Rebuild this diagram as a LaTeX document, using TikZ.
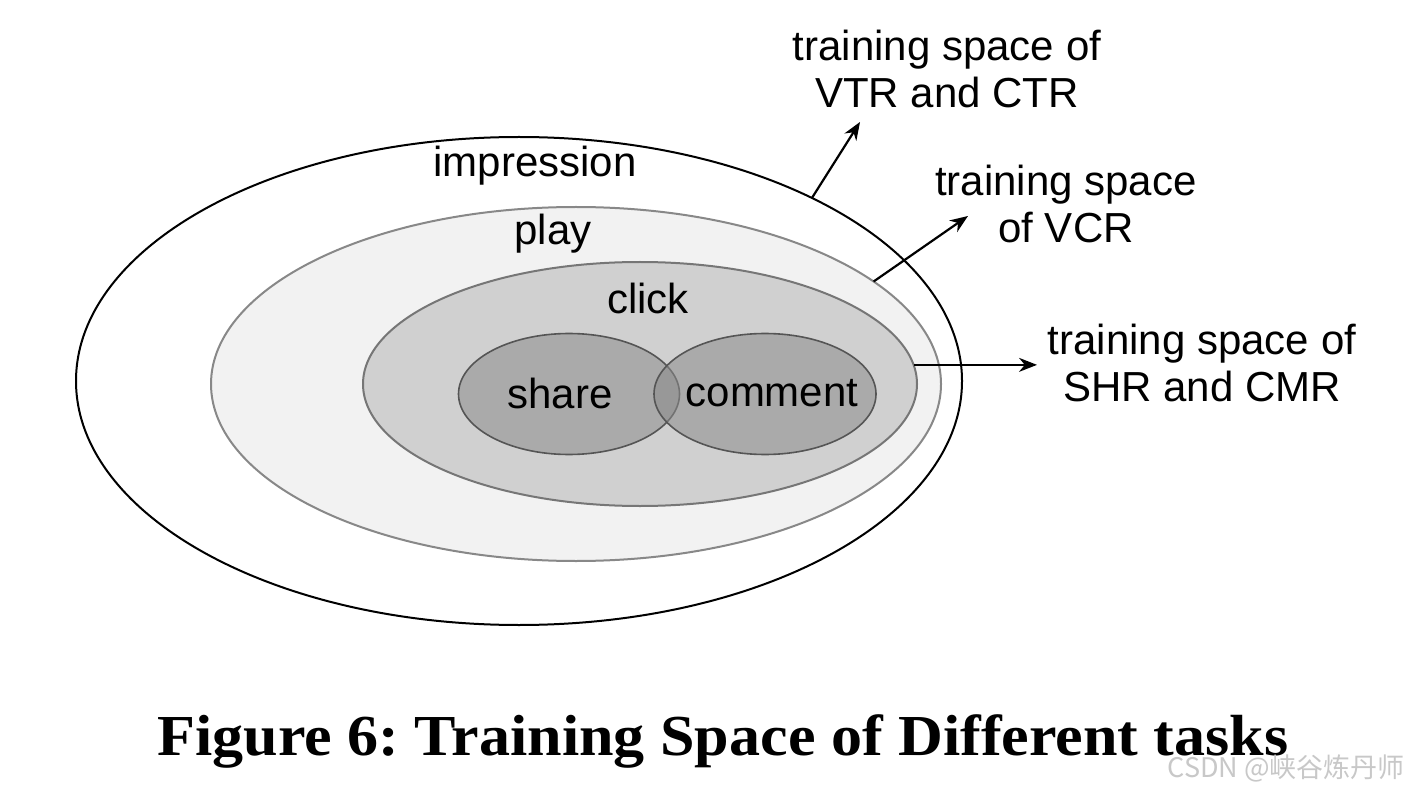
\documentclass[tikz,border=0pt]{standalone}
\usepackage{fontspec}
\setmainfont{Liberation Sans}
\newfontfamily\capfont{Liberation Serif}
\newfontfamily\cjkfont{Noto Sans CJK SC}
\usetikzlibrary{shapes.geometric,arrows.meta}
\definecolor{playfill}{HTML}{F2F2F2}
\definecolor{clickfill}{HTML}{D0D0D0}
\definecolor{sharefill}{HTML}{AAAAAA}
\definecolor{cmtfill}{HTML}{8B8B8B}
\definecolor{playline}{HTML}{888888}
\definecolor{clickline}{HTML}{767676}
\definecolor{shareline}{HTML}{555555}
\definecolor{wm}{HTML}{C8C8C8}
\tikzset{
  region/.style={ellipse, inner sep=0pt, outer sep=0pt, line width=2pt},
  lbl/.style={font=\fontsize{42}{47}\selectfont, inner sep=0pt, align=center},
  conn/.style={line width=2.2pt, -{Stealth[length=18pt,width=14pt]}}
}
\begin{document}
\begin{tikzpicture}[x=1pt,y=-1pt]
\useasboundingbox[fill=white] (0,0) rectangle (1410,791);
% regions
\node[region, draw=black, fill=white, minimum width=886pt, minimum height=488pt] (imp) at (519,381) {};
\node[region, draw=playline, fill=playfill, minimum width=730pt, minimum height=354pt] (play) at (576,384) {};
\node[region, draw=clickline, fill=clickfill, minimum width=554pt, minimum height=244pt] (click) at (640,384) {};
\node[region, draw=shareline, fill=sharefill, line width=1.6pt, minimum width=221pt, minimum height=121pt] (share) at (569,394) {};
\node[region, draw=shareline, fill=cmtfill, fill opacity=0.55, line width=1.6pt, minimum width=222pt, minimum height=121pt] (comment) at (765,394) {};
% labels
\node[lbl] (limp) at (535,166) {impression};
\node[lbl] (lplay) at (553,234) {play};
\node[lbl] (lclick) at (648,298) {click};
\node[lbl] (lshare) at (560,393) {share};
\node[lbl] (lcomment) at (772,393) {comment};
\node[lbl] (t1) at (947,69) {training space of\\VTR and CTR};
\node[lbl] (t2) at (1066,204) {training space\\of VCR};
\node[lbl] (t3) at (1202,363) {training space of\\SHR and CMR};
% arrows
\coordinate (a1) at (860,122);
\coordinate (a2) at (968,216);
\coordinate (a3) at (1037,366);
\draw[conn] (imp.32.4) -- (a1);
\draw[conn] (play.19.3) -- (a2);
\draw[conn] (click.4.3) -- (click.4.3 -| a3);
% caption
\node[inner sep=0pt, anchor=base] (cap) at (723,755) {\frenchspacing\scalebox{1.07}[1]{\capfont\bfseries\fontsize{58}{60}\selectfont Figure 6: Training Space of Different tasks}};
\node[inner sep=0pt, anchor=base east, text=wm] (wmk) at (1405,777) {\cjkfont\fontsize{27}{30}\selectfont CSDN @峡谷炼丹师};
\end{tikzpicture}
\end{document}
